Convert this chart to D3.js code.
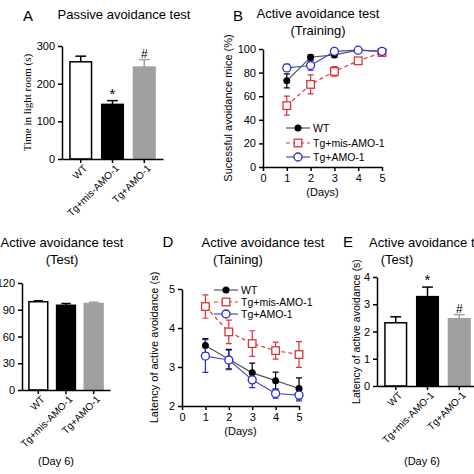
<!DOCTYPE html>
<html><head><meta charset="utf-8">
<script src="https://cdn.jsdelivr.net/npm/d3@7"></script>
<style>body{margin:0;background:#fff}text{font-family:"Liberation Sans",Arial,sans-serif}</style>
</head><body><div id="chart"></div>
<script>
// data
var groups = ["WT", "Tg+mis-AMO-1", "Tg+AMO-1"];
var barColors = ["#ffffff", "#000000", "#a0a0a0"];
var passiveMean = [258, 145, 244], passiveErr = [15, 10, 20], passiveMarks = ["", "*", "#"];
var testPctMean = [99, 95, 97], testPctErr = [1, 2, 1.5];
var testLatMean = [2.32, 3.28, 2.47], testLatErr = [0.22, 0.35, 0.15], testLatMarks = ["", "*", "#"];
var days = [1, 2, 3, 4, 5];
var trainPct = {
  WT: [73, 93, 95, 99, 98], WTerr: [6, 2, 2, 1, 1],
  mis: [52, 70, 81, 90, 97], misErr: [8, 8, 4, 2, 1],
  amo: [84, 86, 98, 99, 98], amoErr: [3, 4, 1, 1, 1]
};
var trainLat = {
  WT: [3.55, 3.2, 2.85, 2.65, 2.45], WTerr: [0.18, 0.25, 0.25, 0.22, 0.27],
  mis: [4.55, 3.9, 3.6, 3.42, 3.32], misErr: [0.3, 0.3, 0.33, 0.22, 0.33],
  amo: [3.28, 3.18, 2.67, 2.32, 2.28], amoErr: [0.42, 0.25, 0.2, 0.12, 0.15]
};

var svg = d3.select("#chart").append("svg").attr("width", 474).attr("height", 474);

function txt(x, y, s, size, anchor, extra) {
  var t = svg.append("text").attr("x", x).attr("y", y).text(s)
    .attr("font-size", size).attr("text-anchor", anchor || "middle");
  if (extra) extra(t);
  return t;
}

function barPanel(o) {
  var g = svg.append("g");
  var y = d3.scaleLinear().domain(o.domain).range([o.y0, o.y1]);
  var x = d3.scaleBand().domain(groups).range([o.x0, o.x1]).paddingInner(0.32).paddingOuter(0.25);
  g.selectAll(".eb").data(o.mean).enter().append("line")
    .attr("x1", function (d, i) { return x(groups[i]) + x.bandwidth() / 2; })
    .attr("x2", function (d, i) { return x(groups[i]) + x.bandwidth() / 2; })
    .attr("y1", function (d) { return y(d); })
    .attr("y2", function (d, i) { return y(d + o.err[i]); })
    .attr("stroke", function (d, i) { return i == 2 ? "#a0a0a0" : "#000"; }).attr("stroke-width", 1.5);
  g.selectAll(".cap").data(o.mean).enter().append("line")
    .attr("x1", function (d, i) { return x(groups[i]) + x.bandwidth() * 0.25; })
    .attr("x2", function (d, i) { return x(groups[i]) + x.bandwidth() * 0.75; })
    .attr("y1", function (d, i) { return y(d + o.err[i]); })
    .attr("y2", function (d, i) { return y(d + o.err[i]); })
    .attr("stroke", function (d, i) { return i == 2 ? "#a0a0a0" : "#000"; }).attr("stroke-width", 1.5);
  g.selectAll("rect").data(o.mean).enter().append("rect")
    .attr("x", function (d, i) { return x(groups[i]); })
    .attr("width", x.bandwidth())
    .attr("y", function (d) { return y(d); })
    .attr("height", function (d) { return y(o.domain[0]) - y(d); })
    .attr("fill", function (d, i) { return barColors[i]; })
    .attr("stroke", function (d, i) { return i == 2 ? "#a0a0a0" : "#000"; }).attr("stroke-width", 1.5);
  if (o.marks) g.selectAll(".mk").data(o.mean).enter().append("text")
    .attr("x", function (d, i) { return x(groups[i]) + x.bandwidth() / 2; })
    .attr("y", function (d, i) { return y(d + o.err[i]) - 2; })
    .attr("text-anchor", "middle").attr("font-size", function (d, i) { return i == 1 ? 15 : 12; })
    .text(function (d, i) { return o.marks[i]; });
  var ya = g.append("g").attr("transform", "translate(" + o.x0 + ",0)")
    .call(d3.axisLeft(y).tickValues(o.ticks).tickFormat(d3.format("d")).tickSize(4).tickSizeOuter(0));
  var xa = g.append("g").attr("transform", "translate(0," + o.y0 + ")")
    .call(d3.axisBottom(x).tickSize(4).tickSizeOuter(0));
  [ya, xa].forEach(function (a) {
    a.selectAll("path,line").attr("stroke", "#000").attr("stroke-width", 1.5);
    a.selectAll("text").attr("font-size", 10).attr("font-family", "Liberation Sans");
  });
  ya.selectAll("text").attr("font-size", 11);
  xa.selectAll("text").attr("text-anchor", "end").attr("dx", "-0.2em").attr("dy", "0.5em")
    .attr("transform", "rotate(-45)");
  if (o.ylabel) txt(0, 0, o.ylabel, o.ylabelSize || 11, "middle", function (t) {
    t.attr("transform", "translate(" + o.ylabelX + "," + (o.y0 + o.y1) / 2 + ") rotate(-90)");
    if (o.serif) t.style("font-family", "Liberation Serif");
  });
}

function linePanel(o) {
  var g = svg.append("g");
  var x = d3.scaleLinear().domain([0, 5]).range([o.x0, o.x1]);
  var y = d3.scaleLinear().domain(o.domain).range([o.y0, o.y1]);
  var series = [
    { m: o.d.WT, e: o.d.WTerr, c: "#000", lc: "#555", dash: null, sym: "dot" },
    { m: o.d.mis, e: o.d.misErr, c: "#d9343a", lc: "#d9343a", dash: "4,3", sym: "sq" },
    { m: o.d.amo, e: o.d.amoErr, c: "#2a2ad0", lc: "#4a4ac8", dash: null, sym: "circ" }
  ];
  var line = d3.line().x(function (d, i) { return x(days[i]); }).y(function (d) { return y(d); });
  series.forEach(function (s) {
    g.selectAll(null).data(s.m).enter().append("path")
      .attr("d", function (d, i) {
        var xx = x(days[i]), top = y(Math.min(d + s.e[i], o.domain[1])), bot = y(d - s.e[i]);
        return "M" + xx + "," + top + "V" + bot + "M" + (xx - 3) + "," + top + "H" + (xx + 3) +
          "M" + (xx - 3) + "," + bot + "H" + (xx + 3);
      }).attr("stroke", s.c).attr("stroke-width", 1.2).attr("fill", "none");
    g.append("path").datum(s.m).attr("d", line).attr("fill", "none")
      .attr("stroke", s.lc).attr("stroke-width", 1.2).attr("stroke-dasharray", s.dash);
  });
  function sym(sel, s, cx, cy) {
    if (s.sym == "dot") sel.append("circle").attr("cx", cx).attr("cy", cy).attr("r", 3.5).attr("fill", "#000");
    else if (s.sym == "circ") sel.append("circle").attr("cx", cx).attr("cy", cy).attr("r", 4)
      .attr("fill", "#fff").attr("stroke", s.c).attr("stroke-width", 1.3);
    else sel.append("rect").attr("x", cx - 3.8).attr("y", cy - 3.8).attr("width", 7.6).attr("height", 7.6)
      .attr("fill", "#fff").attr("stroke", s.c).attr("stroke-width", 1.3);
  }
  series.forEach(function (s) {
    s.m.forEach(function (d, i) { sym(g, s, x(days[i]), y(d)); });
  });
  // legend
  series.forEach(function (s, k) {
    var ly = o.legY[k];
    g.append("line").attr("x1", o.legX).attr("x2", o.legX + 24).attr("y1", ly).attr("y2", ly)
      .attr("stroke", s.lc).attr("stroke-width", 1.2).attr("stroke-dasharray", s.dash);
    sym(g, s, o.legX + 12, ly);
    g.append("text").attr("x", o.legX + 27).attr("y", ly + 4).attr("font-size", 10.5).text(groups[k]);
  });
  var ya = g.append("g").attr("transform", "translate(" + o.x0 + ",0)")
    .call(d3.axisLeft(y).tickValues(o.ticks).tickFormat(d3.format("d")).tickSize(4).tickSizeOuter(0));
  var xa = g.append("g").attr("transform", "translate(0," + o.y0 + ")")
    .call(d3.axisBottom(x).ticks(5).tickSize(4).tickSizeOuter(0));
  [ya, xa].forEach(function (a) {
    a.selectAll("path,line").attr("stroke", "#000").attr("stroke-width", 1.5);
    a.selectAll("text").attr("font-size", 11).attr("font-family", "Liberation Sans");
  });
  txt((o.x0 + o.x1) / 2, o.y0 + 29, "(Days)", 11);
  txt(0, 0, o.ylabel, 11, "middle", function (t) {
    t.attr("transform", "translate(" + o.ylabelX + "," + (o.y0 + o.y1) / 2 + ") rotate(-90)");
  });
}

// Panel A
txt(28, 21, "A", 15);
txt(124, 19, "Passive avoidance test", 13);
barPanel({ x0: 62, x1: 163, y0: 159, y1: 46, domain: [0, 300], ticks: [0, 100, 200, 300],
  mean: passiveMean, err: passiveErr, marks: passiveMarks,
  ylabel: "Time in light room (s)", ylabelX: 31, serif: true, ylabelSize: 11 });

// Panel B
txt(238, 21, "B", 15);
txt(318, 18, "Active avoidance test", 13);
txt(318, 35, "(Training)", 13);
linePanel({ x0: 263, x1: 382, y0: 167, y1: 49, domain: [0, 100], ticks: [0, 20, 40, 60, 80, 100],
  d: trainPct, legX: 286, legY: [128, 143, 157], ylabel: "Sucessful avoidance mice (%)", ylabelX: 232 });

// Panel C
txt(62, 247, "Active avoidance test", 13);
txt(62, 264, "(Test)", 13);
barPanel({ x0: 22, x1: 110, y0: 390, y1: 283, domain: [0, 120], ticks: [0, 30, 60, 90, 120],
  mean: testPctMean, err: testPctErr });
txt(56, 465, "(Day 6)", 11);

// Panel D
txt(168, 247, "D", 15);
txt(263, 247, "Active avoidance test", 13);
txt(238, 264, "(Taining)", 13);
linePanel({ x0: 182, x1: 299, y0: 406, y1: 289, domain: [2, 5], ticks: [2, 3, 4, 5],
  d: trainLat, legX: 214, legY: [290, 302, 314], ylabel: "Latency of active avoidance (s)", ylabelX: 158 });

// Panel E
txt(348, 247, "E", 15);
txt(369, 247, "Active avoidance test", 13, "start");
txt(397, 264, "(Test)", 13);
barPanel({ x0: 377, x1: 478, y0: 386, y1: 277, domain: [0, 4], ticks: [0, 1, 2, 3, 4],
  mean: testLatMean, err: testLatErr, marks: testLatMarks,
  ylabel: "Latency of active avoidance (s)", ylabelX: 360, ylabelSize: 10.5 });
txt(422, 465, "(Day 6)", 11);
</script></body></html>
